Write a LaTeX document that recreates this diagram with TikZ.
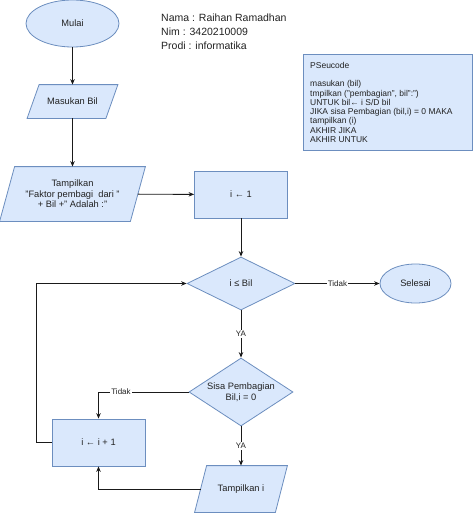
\documentclass[tikz,border=0pt]{standalone}
\usepackage{fontspec}
\setmainfont{Liberation Sans}
\usetikzlibrary{shapes.geometric,arrows.meta,backgrounds}
\definecolor{fillb}{HTML}{DAE8FC}
\definecolor{strokeb}{HTML}{6C8EBF}
\definecolor{ln}{HTML}{1A1A1A}
\definecolor{txt}{HTML}{222222}
\newcommand{\drawpara}[2]{\draw[iopoly] ([xshift=#2]#1.north west) -- ([xshift=#2]#1.north east) -- ([xshift=-#2]#1.south east) -- ([xshift=-#2]#1.south west) -- cycle;}
\begin{document}
\begin{tikzpicture}[x=1pt,y=-1pt,
 shapebase/.style={fill=fillb,draw=strokeb,line width=0.8pt,inner sep=0pt,text=txt,font=\fontsize{9.3}{10.6}\selectfont,align=center},
 term/.style={shapebase,ellipse},
 proc/.style={shapebase,rectangle,minimum width=93pt,minimum height=47pt},
 dec/.style={shapebase,diamond},
 io/.style={shapebase,draw=none,fill=none,rectangle},
 iopoly/.style={fill=fillb,draw=strokeb,line width=0.8pt,line join=miter},
 flow/.style={draw=ln,line width=0.9pt,-{Stealth[length=5.5pt,width=4.5pt]}},
 lbl/.style={fill=white,inner sep=1pt,text=txt,font=\fontsize{8}{9}\selectfont}]
\useasboundingbox (0,0) rectangle (474,519);

\node[term,minimum width=93pt,minimum height=47pt] (mulai) at (72.5,23.5) {Mulai};
\node[io,minimum width=78pt,minimum height=33pt] (masuk) at (72.5,101.5) {Masukan Bil};
\node[io,minimum width=130pt,minimum height=54pt] (tampil) at (72.5,194) {Tampilkan\\"Faktor pembagi\ \ dari "\\+ Bil +" Adalah :"};
\node[proc] (init) at (241,194.5) {i ← 1};
\node[dec,minimum width=108pt,minimum height=53pt,aspect=2] (c1) at (241,283.5) {i ≤ Bil};
\node[term,minimum width=71pt,minimum height=39pt] (selesai) at (415.5,283.5) {Selesai};
\node[dec,minimum width=104pt,minimum height=68pt,aspect=1.53] (c2) at (241,392) {Sisa Pembagian\\Bil,i = 0};
\node[proc] (inc) at (98.5,442.5) {i ← i + 1};
\node[io,minimum width=80pt,minimum height=46pt] (tampili) at (241,489) {Tampilkan i};

\node[anchor=north west,align=left,inner sep=0pt,text=txt,font=\fontsize{10.5}{13.8}\selectfont] (info) at (161,13.6) {Nama : Raihan Ramadhan\\Nim : 3420210009\\Prodi : informatika};

\node[shapebase,rectangle,minimum width=169pt,minimum height=96pt] (pbox) at (387.5,102) {};
\node[anchor=north west,align=left,inner sep=0pt,text=txt,font=\fontsize{8.5}{9.3}\selectfont] (pseudo) at (310,61.8) {PSeucode\\[9.3pt]masukan (bil)\\tmpilkan ("pembagian", bil":")\\UNTUK bil← i S/D bil\\JIKA sisa Pembagian (bil,i) = 0 MAKA\\tampilkan (i)\\AKHIR JIKA\\AKHIR UNTUK};

\begin{pgfonlayer}{background}
\fill[white] (0,0) rectangle (474,519);
\drawpara{masuk}{6pt}
\drawpara{tampil}{7.5pt}
\drawpara{tampili}{6pt}
\end{pgfonlayer}

\draw[flow] (mulai) -- (masuk);
\draw[flow] (masuk) -- (tampil);
\draw[flow] (tampil) -- (init);
\draw[flow] (init) -- (c1);
\draw[flow] (c1) -- node[lbl]{Tidak} (selesai);
\draw[flow] (c1) -- node[lbl]{YA} (c2);
\draw[flow] (c2.west) -| node[lbl,pos=0.375]{Tidak} (inc.north);
\draw[flow] (c2) -- node[lbl]{YA} (tampili);
\draw[flow] (tampili.west) -| (inc.south);
\coordinate (loopc) at (36,442.5);
\draw[flow] (inc.west) -- (loopc) |- (c1.west);
\end{tikzpicture}
\end{document}
